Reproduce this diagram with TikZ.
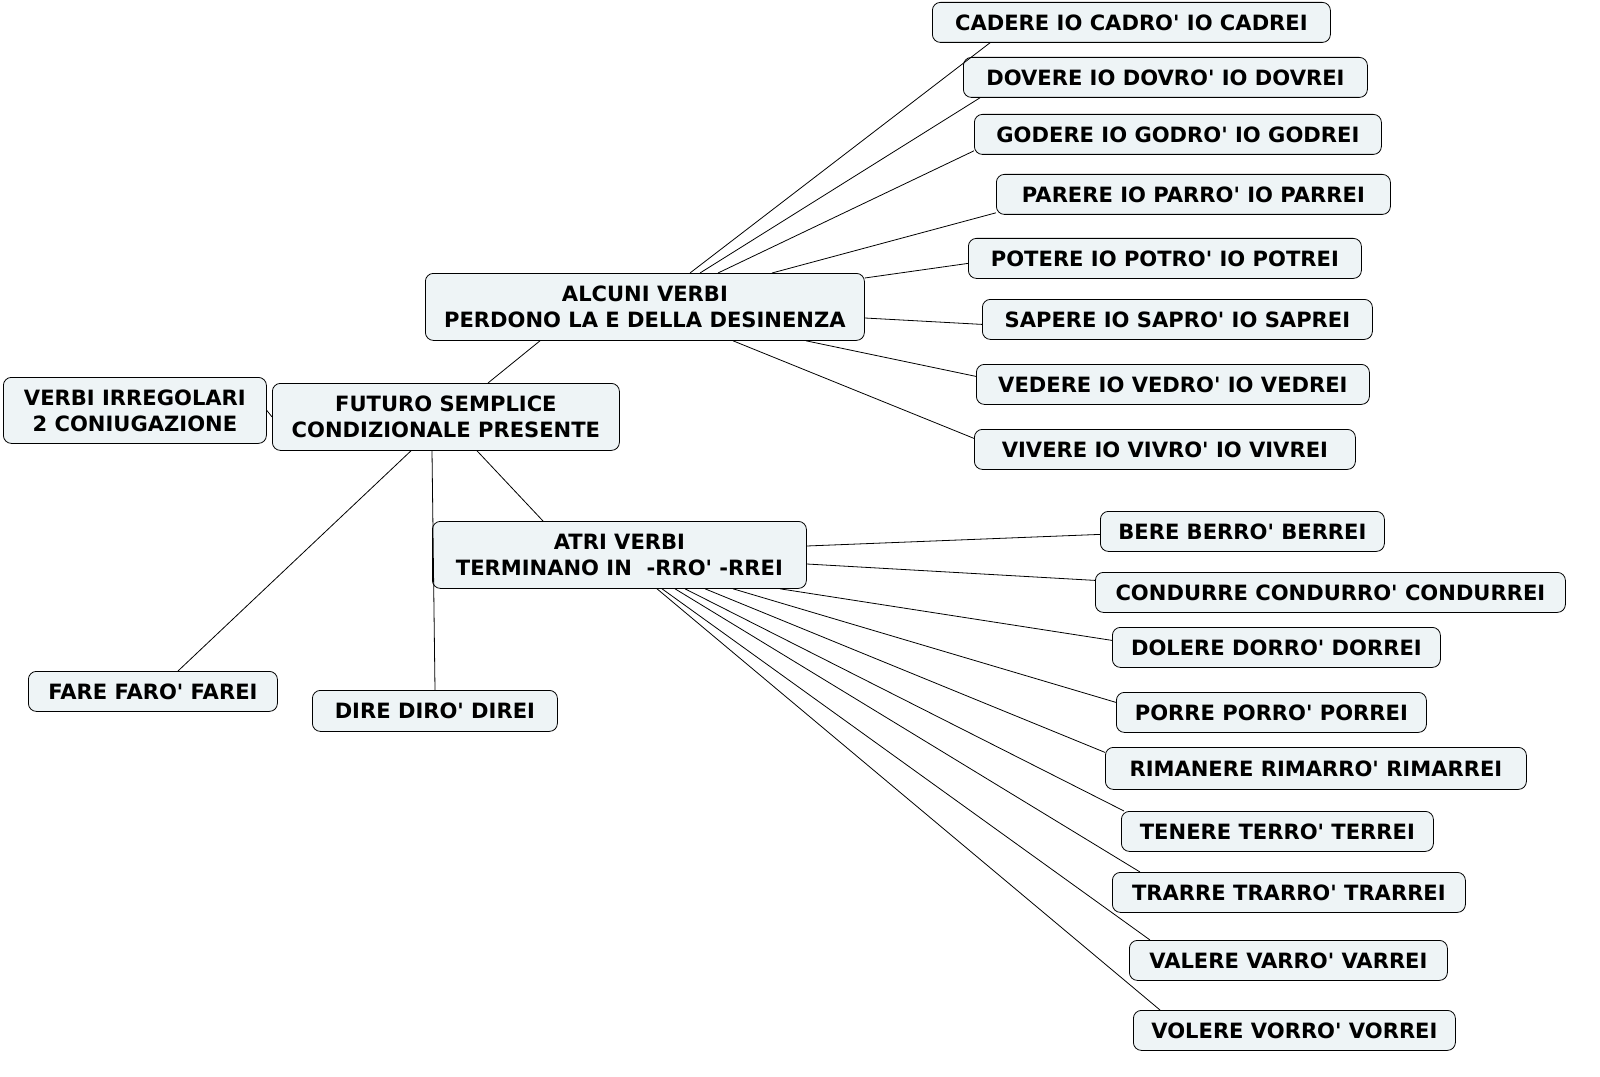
\documentclass[tikz,border=0pt]{standalone}
\usepackage{fontspec}
\setmainfont{DejaVu Sans}[Ligatures=TeXOff]
\usetikzlibrary{calc}
\definecolor{boxfill}{HTML}{EEF4F6}
\begin{document}
\begin{tikzpicture}[x=0.75pt,y=-0.75pt,
 b/.style={draw=black,line width=0.6pt,fill=boxfill,rounded corners=6pt,align=center,
   font=\bfseries\fontsize{15.8}{19.5}\selectfont,inner sep=0pt,anchor=north west},
 l/.style={line width=0.6pt}]
\useasboundingbox (0,0) rectangle (1600,1077);
\newcommand\bx[6]{\node[b,minimum width={(#4-#2)*0.75pt},minimum height={(#5-#3)*0.75pt}] (#1) at (#2,#3) {#6};}
\bx{cad}{932}{2}{1330}{42}{CADERE IO CADRO' IO CADREI}
\bx{dov}{963}{57}{1367}{97}{DOVERE IO DOVRO' IO DOVREI}
\bx{god}{974}{114}{1381}{154}{GODERE IO GODRO' IO GODREI}
\bx{par}{996}{174}{1390}{214}{PARERE IO PARRO' IO PARREI}
\bx{pot}{968}{238}{1361}{278}{POTERE IO POTRO' IO POTREI}
\bx{sap}{982}{299}{1372}{339}{SAPERE IO SAPRO' IO SAPREI}
\bx{ved}{976}{364}{1369}{404}{VEDERE IO VEDRO' IO VEDREI}
\bx{viv}{974}{429}{1355}{469}{VIVERE IO VIVRO' IO VIVREI}
\bx{alc}{425}{273}{864}{340}{ALCUNI VERBI\\PERDONO LA E DELLA DESINENZA}
\bx{irr}{3}{377}{266}{443}{VERBI IRREGOLARI\\2 CONIUGAZIONE}
\bx{fut}{272}{383}{619}{450}{FUTURO SEMPLICE\\CONDIZIONALE PRESENTE}
\bx{atr}{432}{521}{806}{588}{ATRI VERBI\\TERMINANO IN\ \ -RRO' -RREI}
\bx{far}{28}{671}{277}{711}{FARE FARO' FAREI}
\bx{dir}{312}{690}{557}{731}{DIRE DIRO' DIREI}
\bx{ber}{1100}{511}{1384}{551}{BERE BERRO' BERREI}
\bx{con}{1095}{572}{1565}{612}{CONDURRE CONDURRO' CONDURREI}
\bx{dol}{1112}{627}{1440}{667}{DOLERE DORRO' DORREI}
\bx{por}{1116}{692}{1426}{732}{PORRE PORRO' PORREI}
\bx{rim}{1105}{747}{1526}{789}{RIMANERE RIMARRO' RIMARREI}
\bx{ten}{1121}{811}{1433}{851}{TENERE TERRO' TERREI}
\bx{tra}{1112}{872}{1465}{912}{TRARRE TRARRO' TRARREI}
\bx{val}{1129}{940}{1447}{980}{VALERE VARRO' VARREI}
\bx{vol}{1133}{1010}{1455}{1050}{VOLERE VORRO' VORREI}
\draw[l] ($(alc.north west)+(265,0)$) -- ($(cad.south west)+(58,0)$);
\draw[l] ($(alc.north west)+(275,0)$) -- ($(dov.south west)+(17,0)$);
\draw[l] ($(alc.north west)+(293,0)$) -- ($(god.south west)+(0,-4)$);
\draw[l] ($(alc.north west)+(347,0)$) -- ($(par.south west)+(0,-2)$);
\draw[l] ($(alc.north east)+(0,5)$) -- ($(pot.west)+(0,5)$);
\draw[l] ($(alc.north east)+(0,45)$) -- ($(sap.west)+(0,5)$);
\draw[l] ($(alc.south west)+(381,0)$) -- ($(ved.west)+(0,-8)$);
\draw[l] ($(alc.south west)+(308,0)$) -- ($(viv.west)+(0,-11)$);
\draw[l] ($(fut.north west)+(216,0)$) -- ($(alc.south west)+(115,0)$);
\draw[l] (irr.east) -- (fut.west);
\draw[l] ($(fut.south west)+(205,0)$) -- ($(atr.north west)+(111,0)$);
\draw[l] ($(fut.south west)+(139,0)$) -- ($(far.north west)+(150,0)$);
\draw[l] ($(fut.south west)+(160,0)$) -- ($(dir.north west)+(123,0)$);
\draw[l] ($(atr.north east)+(0,25)$) -- ($(ber.west)+(0,3)$);
\draw[l] ($(atr.north east)+(0,43)$) -- ($(con.west)+(0,-12)$);
\draw[l] ($(atr.south west)+(348,0)$) -- ($(dol.west)+(0,-7)$);
\draw[l] ($(atr.south west)+(301,0)$) -- ($(por.west)+(0,-10)$);
\draw[l] ($(atr.south west)+(273,0)$) -- ($(rim.west)+(0,-16)$);
\draw[l] ($(atr.south west)+(253,0)$) -- ($(ten.north west)+(3,0)$);
\draw[l] ($(atr.south west)+(243,0)$) -- ($(tra.north west)+(28,0)$);
\draw[l] ($(atr.south west)+(230,0)$) -- ($(val.north west)+(21,0)$);
\draw[l] ($(atr.south west)+(225,0)$) -- ($(vol.north west)+(27,0)$);
\end{tikzpicture}
\end{document}
